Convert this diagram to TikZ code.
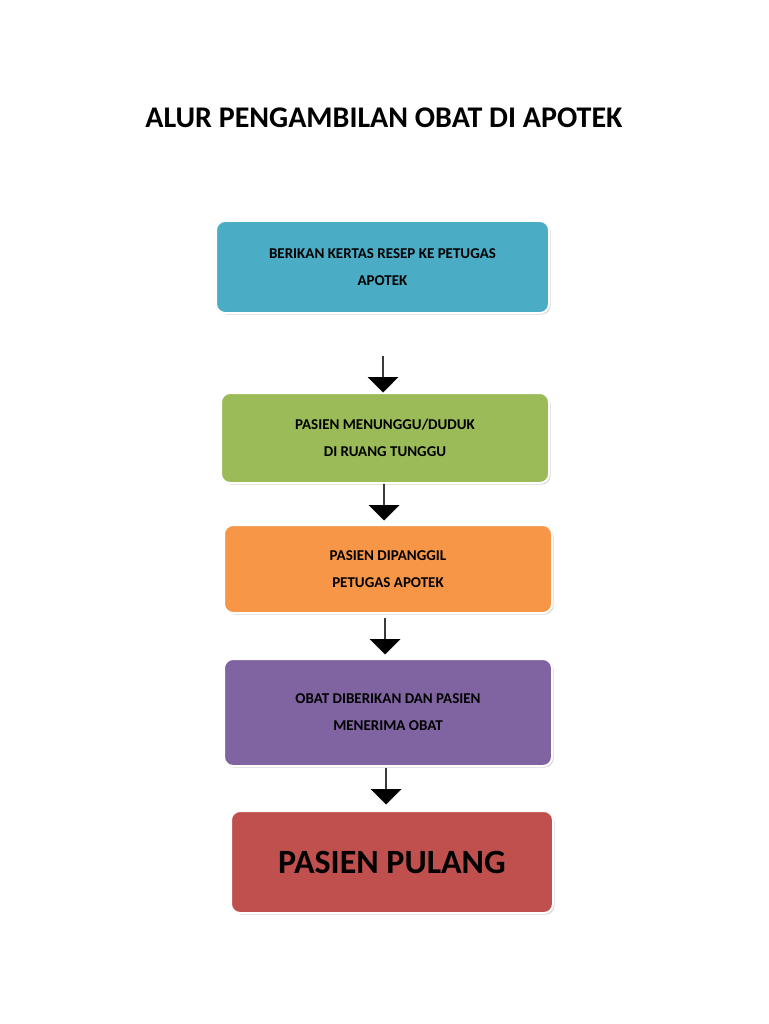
\documentclass[tikz,border=0pt]{standalone}
\usepackage{fontspec}
\setmainfont{Carlito}
\usetikzlibrary{shapes.arrows,shadows}
\definecolor{c1}{HTML}{4BACC6}
\definecolor{c2}{HTML}{9BBB59}
\definecolor{c3}{HTML}{F79646}
\definecolor{c4}{HTML}{8064A2}
\definecolor{c5}{HTML}{C0504D}
\tikzset{
 flowbox/.style={draw=white,line width=2pt,rounded corners=9pt,drop shadow={shadow xshift=1.5pt,shadow yshift=-1.5pt,opacity=0.35},font=\bfseries\fontsize{15}{27}\selectfont,align=center,text=black},
 blockarrow/.style={draw=black,fill=black,single arrow,shape border rotate=270,minimum height=36pt,minimum width=30pt,single arrow head extend=7pt,inner sep=0pt}
}
\begin{document}
\begin{tikzpicture}[x=1pt,y=-1pt]
\useasboundingbox (0,0) rectangle (768,1024);
\node[font=\bfseries\fontsize{30}{36}\selectfont] (title) at (384,118) {ALUR PENGAMBILAN OBAT DI APOTEK};
\node[flowbox,fill=c1,minimum width=333pt,minimum height=92pt,anchor=north west] (b1) at (215,220) {BERIKAN KERTAS RESEP KE PETUGAS\\APOTEK};
\node[flowbox,fill=c2,minimum width=328pt,minimum height=90pt,anchor=north west] (b2) at (220,392) {PASIEN MENUNGGU/DUDUK\\DI RUANG TUNGGU};
\node[flowbox,fill=c3,minimum width=328pt,minimum height=88pt,anchor=north west] (b3) at (223,524) {PASIEN DIPANGGIL\\PETUGAS APOTEK};
\node[flowbox,fill=c4,minimum width=328pt,minimum height=107pt,anchor=north west] (b4) at (223,658) {OBAT DIBERIKAN DAN PASIEN\\MENERIMA OBAT};
\node[flowbox,fill=c5,minimum width=322pt,minimum height=102pt,anchor=north west,font=\bfseries\fontsize{34}{40}\selectfont] (b5) at (230,810) {PASIEN PULANG};
\node[blockarrow] (a1) at (383,374) {};
\node[blockarrow] (a2) at (384,502) {};
\node[blockarrow] (a3) at (385,636) {};
\node[blockarrow] (a4) at (386,786) {};
\end{tikzpicture}
\end{document}
